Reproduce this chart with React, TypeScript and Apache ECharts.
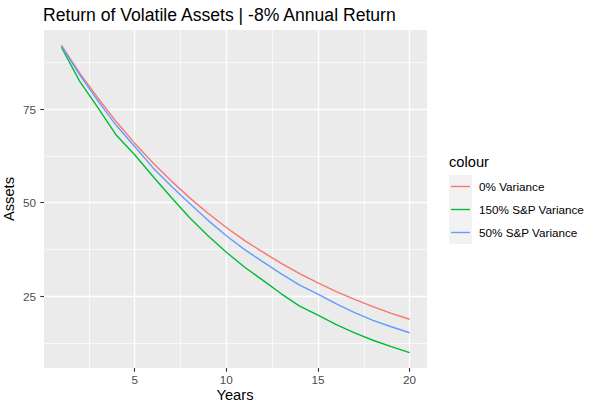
import { useEffect, useRef } from "react";
import * as echarts from "echarts";

const YEARS = [1, 2, 3, 4, 5, 6, 7, 8, 9, 10, 11, 12, 13, 14, 15, 16, 17, 18, 19, 20];

const SERIES_NAMES = ["0% Variance", "150% S&P Variance", "50% S&P Variance"];
const SERIES_COLORS = ["#F8766D", "#00BA38", "#619CFF"];

const ZERO_VARIANCE = [92, 84.6, 77.9, 71.6, 65.9, 60.6, 55.8, 51.3, 47.2, 43.4, 39.9, 36.8, 33.8, 31.1, 28.6, 26.3, 24.2, 22.3, 20.5, 18.9];
const SP150_VARIANCE = [91.5, 82.4, 75.3, 68, 62.8, 57, 51.4, 46, 41.2, 36.8, 32.8, 29.3, 25.7, 22.4, 20, 17.5, 15.3, 13.3, 11.6, 10];
const SP50_VARIANCE = [91.8, 84.1, 77.1, 70.6, 65, 59.3, 54.4, 49.8, 45.3, 41.2, 37.5, 34.2, 31, 28, 25.6, 23, 20.7, 18.6, 16.9, 15.3];

const X_MAJOR = [5, 10, 15, 20];
const X_MINOR = [2.5, 7.5, 12.5, 17.5];
const Y_MAJOR = [25, 50, 75];
const Y_MINOR = [12.5, 37.5, 62.5, 87.5];

const FONT = "'Liberation Sans', Arial, Helvetica, sans-serif";

export default function App() {
  const containerRef = useRef<HTMLDivElement | null>(null);

  useEffect(() => {
    if (!containerRef.current) {
      return;
    }

    const chart = echarts.init(containerRef.current, undefined, { renderer: "svg" });

    const seriesValues = [ZERO_VARIANCE, SP150_VARIANCE, SP50_VARIANCE];
    const allValues = seriesValues.flat();
    const yLow = Math.min(...allValues);
    const yHigh = Math.max(...allValues);
    const yPad = (yHigh - yLow) * 0.05;
    const xLow = Math.min(...YEARS);
    const xHigh = Math.max(...YEARS);
    const xPad = (xHigh - xLow) * 0.05;

    const gridLine = (axis: "xAxis" | "yAxis", value: number, major: boolean) => ({
      [axis]: value,
      lineStyle: { color: "#ffffff", width: major ? 1.3 : 0.65, type: "solid" as const },
    });

    const option: echarts.EChartsOption = {
      animation: false,
      backgroundColor: "#ffffff",
      textStyle: { fontFamily: FONT },
      title: {
        text: "Return of Volatile Assets | -8% Annual Return",
        left: 43,
        top: 6,
        padding: 0,
        textStyle: { fontSize: 17.6, fontWeight: "normal", color: "#000000", fontFamily: FONT },
      },
      grid: {
        left: 44,
        right: 173,
        top: 30,
        bottom: 42,
        show: true,
        backgroundColor: "#EBEBEB",
        borderWidth: 0,
        outerBoundsMode: "none",
        containLabel: false,
      },
      legend: {
        orient: "vertical",
        left: 451,
        top: 175,
        padding: 0,
        icon: "rect",
        itemWidth: 19,
        itemHeight: 1.4,
        itemGap: 0,
        data: SERIES_NAMES,
        textStyle: {
          fontSize: 11.7,
          color: "#000000",
          fontFamily: FONT,
          lineHeight: 23,
          padding: [0, 0, 0, 4],
        },
      },
      graphic: [
        {
          type: "rect",
          left: 449,
          top: 175,
          shape: { width: 23, height: 69 },
          style: { fill: "#F2F2F2" },
          z: -1,
          silent: true,
        },
        {
          type: "text",
          left: 449,
          top: 154,
          style: { text: "colour", fontSize: 14.7, fill: "#000000", fontFamily: FONT },
          silent: true,
        },
        {
          type: "text",
          x: 235,
          y: 394.5,
          style: {
            text: "Years",
            fontSize: 14.7,
            fill: "#000000",
            fontFamily: FONT,
            align: "center",
            verticalAlign: "middle",
          },
          silent: true,
        },
        {
          type: "text",
          x: 9,
          y: 199,
          rotation: Math.PI / 2,
          style: {
            text: "Assets",
            fontSize: 14.7,
            fill: "#000000",
            fontFamily: FONT,
            align: "center",
            verticalAlign: "middle",
          },
          silent: true,
        },
      ],
      xAxis: {
        type: "value",
        min: xLow - xPad,
        max: xHigh + xPad,
        axisLine: { show: false },
        splitLine: { show: false },
        axisTick: {
          show: true,
          length: 3.7,
          customValues: X_MAJOR,
          lineStyle: { color: "#333333", width: 1.1 },
        },
        axisLabel: {
          customValues: X_MAJOR,
          margin: 5,
          fontSize: 11.7,
          color: "#4D4D4D",
          fontFamily: FONT,
        },
      },
      yAxis: {
        type: "value",
        min: yLow - yPad,
        max: yHigh + yPad,
        axisLine: { show: false },
        splitLine: { show: false },
        axisTick: {
          show: true,
          length: 3.7,
          customValues: Y_MAJOR,
          lineStyle: { color: "#333333", width: 1.1 },
        },
        axisLabel: {
          customValues: Y_MAJOR,
          margin: 8,
          fontSize: 11.7,
          color: "#4D4D4D",
          fontFamily: FONT,
        },
      },
      series: [
        {
          type: "line",
          name: "__grid",
          data: [],
          silent: true,
          z: 1,
          markLine: {
            z: 1,
            silent: true,
            symbol: ["none", "none"],
            label: { show: false },
            emphasis: { disabled: true },
            animation: false,
            data: [
              ...X_MINOR.map((v) => gridLine("xAxis", v, false)),
              ...Y_MINOR.map((v) => gridLine("yAxis", v, false)),
              ...X_MAJOR.map((v) => gridLine("xAxis", v, true)),
              ...Y_MAJOR.map((v) => gridLine("yAxis", v, true)),
            ],
          },
        },
        ...SERIES_NAMES.map((name, i) => ({
          type: "line" as const,
          name,
          z: 3,
          color: SERIES_COLORS[i],
          symbol: "none",
          showSymbol: false,
          silent: true,
          data: YEARS.map((year, j) => [year, seriesValues[i][j]]),
          lineStyle: { color: SERIES_COLORS[i], width: 1.4 },
          itemStyle: { color: SERIES_COLORS[i] },
          emphasis: { disabled: true },
        })),
      ],
    };

    chart.setOption(option);

    return () => {
      chart.dispose();
    };
  }, []);

  return (
    <div
      ref={containerRef}
      style={{ position: "fixed", left: 0, top: 0, width: 600, height: 410 }}
    />
  );
}
